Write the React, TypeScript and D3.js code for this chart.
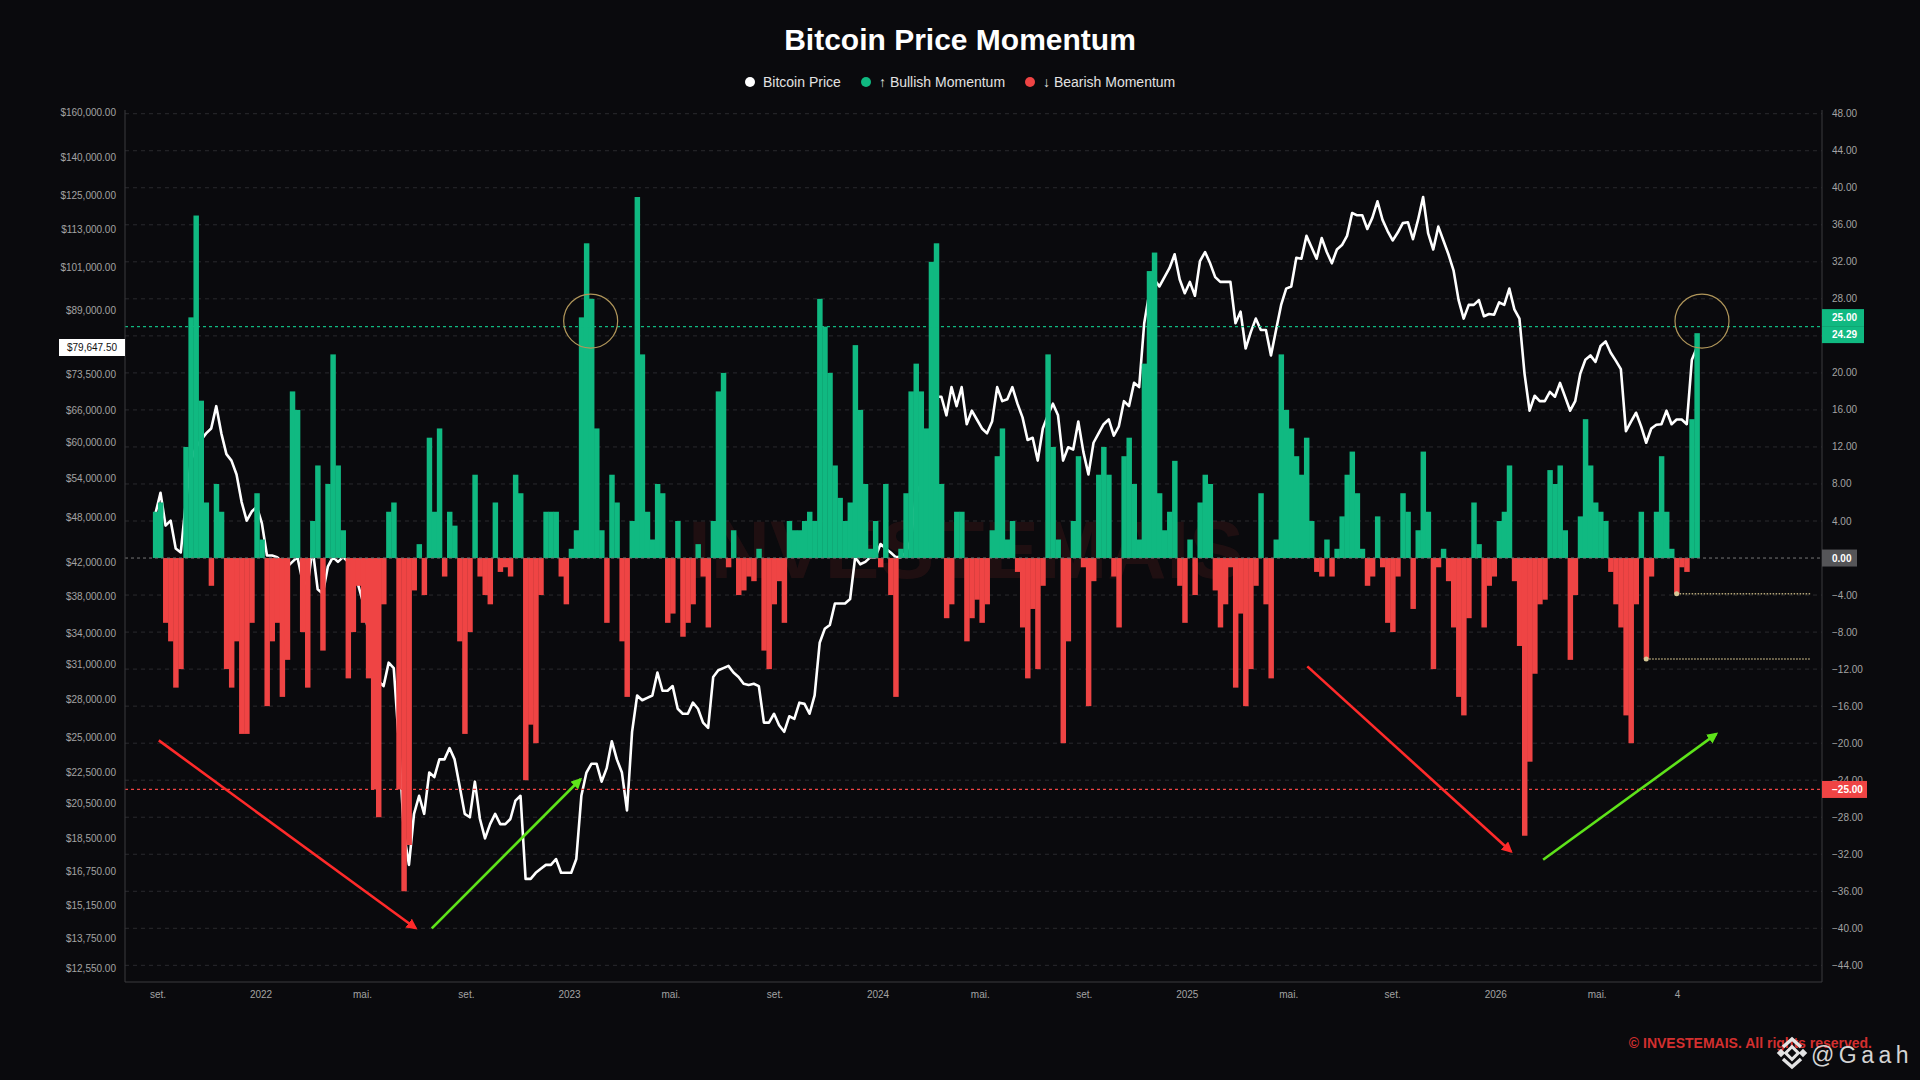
import { useEffect, useRef } from "react";
import * as d3 from "d3";

// one sample every 6 days starting 2021-08-29
const startDate = new Date(2021, 7, 29);
const stepDays = 6;

const momentum = [
  5, 6, -7, -9, -14, -12, 12, 26, 37, 17,
  6, -3, 8, 5, -12, -14, -9, -19, -19, -7,
  7, 2, -16, -9, -7, -15, -11, 18, 16, -8,
  -14, 4, 10, -10, 8, 22, 10, 3, -13, -8,
  -3, -7, -13, -25, -28, -5, 5, 6, -25, -36,
  -31, -3.5, 1.5, -4, 13, 5, 14, -2, 5, 3.5,
  -9, -19, -8, 9, -2, -4, -5, 6, -1.5, -1,
  -2, 9, 7, -24, -18, -20, -4, 5, 5, 5,
  -2, -5, 1, 3, 26, 34, 28, 14, 3, -7,
  9, 6, -9, -15, 4, 39, 22, 5, 2, 8,
  7, -7, -6, 4, -8.5, -7, -5, 1.5, -2, -7.5,
  4, 18, 20, -1, 3, -4, -3.5, -2, -2.5, 1,
  -10, -12, -5, -2.5, -7, 4, 3, 3, 4, 5,
  4, 28, 25, 20, 10, 6.5, 4, 6, 23, 16,
  8, 1, 4, -1, 8, -4, -15, 1, 7, 18,
  21, 18, 14, 32, 34, 8, -6.5, -5, 5, 5,
  -9, -6.5, -4.5, -7, -5, 3, 11, 14, 2, 4,
  -1.5, -7.5, -13, -5.5, -12, -3, 22, 12, 2, -20,
  -9, 4, 11, -1, -16, -2.5, 9, 12, 9, -2,
  -7.5, 11, 13, 8, 2, 21, 31, 33, 7, 3,
  5, 10.5, -3, -7, 2, -4, 6, 9, 8, -3.5,
  -7.5, -5, -1, -14, -6, -16, -12, -3, 7, -5,
  -13, 2, 22, 16, 14, 11, 9, 13, 4, -1.5,
  -2, 2, -2, 1, 4.5, 9, 11.5, 7, 1, -3,
  -2, 4.5, -1, -7, -8, -2, 7, 5, -5.5, 3,
  11.5, 5, -12, -1, 1, -2.5, -7.5, -15, -17, -6.5,
  6, 1.5, -7.5, -3, -2, 4, 5, 10, -2.5, -9.5,
  -30, -22, -12.5, -5, -4.5, 9.5, 8, 10, 3, -11,
  -4, 4.5, 15, 10, 6, 5, 4, -1.5, -5, -7.5,
  -17, -20, -5, 5, -10.9, -2, 5, 11, 5, 1,
  -3.85, -1, -1.5, 15, 24.29,
];

// Bitcoin price in thousands of USD
const priceK = [
  48.6, 51.7, 46.9, 47.6, 43.8, 43.3, 50.3, 56.9, 59.2, 60.5,
  61.7, 62.6, 66.9, 61.7, 58.0, 56.9, 54.6, 50.3, 47.6, 48.9,
  49.6, 47.2, 42.9, 42.9, 42.7, 42.1, 41.5, 42.1, 42.7, 39.8,
  39.3, 43.8, 38.8, 38.3, 41.5, 42.7, 42.1, 42.7, 42.1, 41.0,
  39.3, 37.2, 34.2, 31.2, 29.5, 29.1, 31.2, 30.7, 24.7, 18.8,
  17.1, 19.9, 21.0, 19.9, 22.5, 22.2, 23.4, 23.4, 24.2, 23.4,
  21.6, 19.9, 19.7, 21.9, 19.6, 18.5, 19.3, 19.9, 19.3, 19.3,
  19.6, 20.7, 21.0, 16.4, 16.4, 16.7, 16.9, 17.1, 17.1, 17.4,
  16.7, 16.7, 16.7, 17.4, 21.0, 22.5, 23.1, 23.1, 21.9, 22.8,
  24.7, 23.4, 22.5, 20.1, 25.4, 28.3, 27.9, 28.1, 28.3, 30.3,
  28.7, 28.7, 29.1, 27.2, 26.8, 26.8, 27.7, 27.2, 26.1, 25.7,
  29.9, 30.5, 30.7, 30.9, 30.3, 29.9, 29.3, 29.2, 29.3, 29.1,
  26.1, 26.1, 26.8, 25.9, 25.4, 26.6, 26.4, 27.7, 27.6, 26.8,
  28.3, 33.1, 34.5, 34.9, 37.2, 37.2, 37.2, 37.7, 42.7, 41.8,
  42.1, 42.7, 42.7, 44.4, 43.8, 43.3, 42.7, 42.7, 43.3, 45.0,
  51.5, 53.1, 56.9, 62.6, 68.8, 68.8, 65.1, 70.8, 66.9, 70.8,
  63.4, 66.0, 64.3, 62.6, 61.7, 63.9, 70.8, 67.9, 68.3, 70.8,
  67.4, 64.7, 60.5, 60.9, 56.9, 62.6, 65.1, 67.4, 65.1, 56.9,
  59.2, 58.8, 63.9, 58.4, 54.6, 60.0, 61.7, 63.4, 64.3, 61.3,
  63.0, 67.9, 66.9, 71.7, 70.8, 85.6, 93.6, 97.5, 95.5, 98.2,
  100.9, 105.1, 97.5, 93.6, 96.8, 92.9, 103.0, 105.8, 102.3, 98.2,
  96.8, 96.8, 96.8, 85.6, 88.6, 79.4, 83.3, 86.8, 83.9, 83.9,
  77.8, 83.9, 90.4, 94.9, 95.5, 104.0, 103.7, 111.0, 107.3, 103.7,
  110.3, 105.8, 102.3, 106.6, 108.0, 111.0, 118.8, 118.0, 118.0, 113.3,
  117.2, 123.0, 116.4, 112.6, 109.5, 112.1, 115.3, 115.6, 109.9, 116.4,
  124.6, 111.8, 106.6, 114.1, 109.5, 105.1, 100.2, 91.7, 86.8, 90.4,
  90.4, 91.7, 87.4, 88.0, 87.8, 91.1, 90.4, 94.9, 89.2, 86.8,
  73.7, 66.0, 69.0, 67.9, 67.9, 69.8, 68.8, 71.7, 68.8, 66.0,
  67.9, 73.7, 76.8, 77.8, 76.3, 80.0, 81.1, 78.4, 76.6, 74.7,
  62.1, 63.9, 65.6, 63.0, 60.0, 62.6, 63.3, 63.4, 66.0, 63.4,
  64.3, 64.3, 63.4, 76.8, 79.6475,
];

const priceTicks = [
  160000, 140000, 125000, 113000, 101000, 89000, 80000, 73500, 66000, 60000,
  54000, 48000, 42000, 38000, 34000, 31000, 28000, 25000, 22500, 20500,
  18500, 16750, 15150, 13750, 12550,
];

const momentumTicks = [
  48, 44, 40, 36, 32, 28, 24, 20, 16, 12, 8, 4, 0,
  -4, -8, -12, -16, -20, -24, -28, -32, -36, -40, -44,
];
// labels fully covered by value tags in the chart
const hiddenMomentumLabels = [24];

const timeTicks: [string, string][] = [
  ["2021-09-01", "set."], ["2022-01-01", "2022"], ["2022-05-01", "mai."],
  ["2022-09-01", "set."], ["2023-01-01", "2023"], ["2023-05-01", "mai."],
  ["2023-09-01", "set."], ["2024-01-01", "2024"], ["2024-05-01", "mai."],
  ["2024-09-01", "set."], ["2025-01-01", "2025"], ["2025-05-01", "mai."],
  ["2025-09-01", "set."], ["2026-01-01", "2026"], ["2026-05-01", "mai."],
  ["2026-08-04", "4"],
];

const upperLevel = 25;
const lowerLevel = -25;

// drawings on the chart
const trendArrows = [
  { from: ["2021-09-02", -19.7], to: ["2022-07-03", -40.0], color: "#ff2a2a" },
  { from: ["2022-07-22", -40.0], to: ["2023-01-14", -23.9], color: "#5ee31a" },
  { from: ["2025-05-23", -11.7], to: ["2026-01-19", -31.7], color: "#ff2a2a" },
  { from: ["2026-02-26", -32.6], to: ["2026-09-19", -19.0], color: "#5ee31a" },
];
const highlightCircles = [
  { date: "2023-01-26", value: 25.6 },
  { date: "2026-09-02", value: 25.6 },
];
const rays = [
  { index: 294, end: "2027-01-09" },
  { index: 300, end: "2027-01-09" },
];

const BG = "#0a0a0d";
const GREEN = "#10b981";
const RED = "#ef4444";
const FONT = "'Liberation Sans', Arial, sans-serif";

export default function App() {
  const svgRef = useRef<SVGSVGElement>(null);

  useEffect(() => {
    const svg = d3.select(svgRef.current);
    svg.selectAll("*").remove();

    const left = 125;
    const right = 1822;
    const top = 110;
    const bottom = 982;

    const parse = d3.timeParse("%Y-%m-%d");
    const dates = momentum.map((_, i) => d3.timeDay.offset(startDate, i * stepDays));

    const x = d3
      .scaleTime()
      .domain([parse("2021-07-24")!, parse("2027-01-22")!])
      .range([left, right]);
    const yM = d3.scaleLinear().domain([-45.8, 48.4]).range([bottom, top]);
    const yP = d3.scaleLog().domain([12070, 161400]).range([bottom, top]);

    const barW = x(dates[1]) - x(dates[0]);

    svg.append("rect").attr("width", 1920).attr("height", 1080).attr("fill", BG);

    // grid
    svg
      .append("g")
      .selectAll("line")
      .data(momentumTicks.filter((t) => t !== 0))
      .join("line")
      .attr("x1", left)
      .attr("x2", right)
      .attr("y1", (d) => yM(d))
      .attr("y2", (d) => yM(d))
      .attr("stroke", "#2a2a2e")
      .attr("stroke-dasharray", "4,4");

    // watermark
    svg
      .append("text")
      .attr("x", 966)
      .attr("y", 578)
      .attr("text-anchor", "middle")
      .style("font-family", FONT)
      .style("font-size", "82px")
      .style("font-weight", "bold")
      .attr("fill", "rgba(239,68,68,0.09)")
      .text("INVESTEMAIS");

    // price line (under the histogram)
    const priceLine = d3
      .line<number>()
      .x((_, i) => x(dates[i]))
      .y((d) => yP(d * 1000));
    svg
      .append("path")
      .datum(priceK)
      .attr("fill", "none")
      .attr("stroke", "#ffffff")
      .attr("stroke-width", 2.6)
      .attr("stroke-linejoin", "round")
      .attr("d", priceLine);

    // momentum histogram
    svg
      .append("g")
      .selectAll("rect")
      .data(momentum)
      .join("rect")
      .attr("x", (_, i) => x(dates[i]) - barW / 2)
      .attr("width", barW + 0.4)
      .attr("y", (d) => (d >= 0 ? yM(d) : yM(0)))
      .attr("height", (d) => Math.abs(yM(d) - yM(0)))
      .attr("fill", (d) => (d >= 0 ? GREEN : RED));

    // zero and threshold lines
    svg
      .append("line")
      .attr("x1", left)
      .attr("x2", right)
      .attr("y1", yM(0))
      .attr("y2", yM(0))
      .attr("stroke", "#777")
      .attr("stroke-dasharray", "3,3");
    [
      { v: upperLevel, c: GREEN },
      { v: lowerLevel, c: RED },
    ].forEach((l) => {
      svg
        .append("line")
        .attr("x1", left)
        .attr("x2", right)
        .attr("y1", yM(l.v))
        .attr("y2", yM(l.v))
        .attr("stroke", l.c)
        .attr("stroke-width", 1.2)
        .attr("stroke-dasharray", "3,3");
    });

    // rays from recent lows
    rays.forEach((r) => {
      const x0 = x(dates[r.index]);
      const y0 = yM(momentum[r.index]);
      svg
        .append("line")
        .attr("x1", x0)
        .attr("x2", x(parse(r.end)!))
        .attr("y1", y0)
        .attr("y2", y0)
        .attr("stroke", "#b3a477")
        .attr("stroke-width", 1.5)
        .attr("stroke-dasharray", "1.5,1.5");
      svg
        .append("circle")
        .attr("cx", x0)
        .attr("cy", y0)
        .attr("r", 2.5)
        .attr("fill", "#d6c796");
    });

    // circles
    highlightCircles.forEach((c) => {
      svg
        .append("circle")
        .attr("cx", x(parse(c.date)!))
        .attr("cy", yM(c.value))
        .attr("r", 27)
        .attr("fill", "none")
        .attr("stroke", "#b0965a")
        .attr("stroke-width", 1.2);
    });

    // arrows
    const defs = svg.append("defs");
    trendArrows.forEach((a, i) => {
      defs
        .append("marker")
        .attr("id", `arrow${i}`)
        .attr("viewBox", "0 0 10 10")
        .attr("refX", 8)
        .attr("refY", 5)
        .attr("markerWidth", 11)
        .attr("markerHeight", 11)
        .attr("markerUnits", "userSpaceOnUse")
        .attr("orient", "auto")
        .append("path")
        .attr("d", "M0,0L10,5L0,10z")
        .attr("fill", a.color);
      svg
        .append("line")
        .attr("x1", x(parse(a.from[0] as string)!))
        .attr("y1", yM(a.from[1] as number))
        .attr("x2", x(parse(a.to[0] as string)!))
        .attr("y2", yM(a.to[1] as number))
        .attr("stroke", a.color)
        .attr("stroke-width", 2.6)
        .attr("marker-end", `url(#arrow${i})`);
    });

    // axis lines
    const axisColor = "#3a3a3e";
    svg.append("line").attr("x1", left).attr("x2", left).attr("y1", top).attr("y2", bottom).attr("stroke", axisColor);
    svg.append("line").attr("x1", right).attr("x2", right).attr("y1", top).attr("y2", bottom).attr("stroke", axisColor);
    svg.append("line").attr("x1", left).attr("x2", right).attr("y1", bottom).attr("y2", bottom).attr("stroke", axisColor);

    const labelStyle = (sel: any) =>
      sel.style("font-family", FONT).style("font-size", "10px").attr("fill", "#a3a3a3");

    // left price labels
    const fmtPrice = d3.format("$,.2f");
    svg
      .append("g")
      .selectAll("text")
      .data(priceTicks)
      .join("text")
      .attr("x", left - 9)
      .attr("y", (d) => yP(d))
      .attr("dy", "0.35em")
      .attr("text-anchor", "end")
      .text((d) => fmtPrice(d))
      .call(labelStyle);

    // right momentum labels
    svg
      .append("g")
      .selectAll("text")
      .data(momentumTicks.filter((t) => !hiddenMomentumLabels.includes(t)))
      .join("text")
      .attr("x", right + 10)
      .attr("y", (d) => yM(d))
      .attr("dy", "0.35em")
      .text((d) => d3.format(".2f")(d))
      .call(labelStyle);

    // time labels
    svg
      .append("g")
      .selectAll("text")
      .data(timeTicks)
      .join("text")
      .attr("x", (d) => x(parse(d[0])!))
      .attr("y", bottom + 16)
      .attr("text-anchor", "middle")
      .text((d) => d[1])
      .call(labelStyle);

    // last price tag
    const lastPrice = priceK[priceK.length - 1] * 1000;
    svg
      .append("rect")
      .attr("x", 59)
      .attr("y", yP(lastPrice) - 8.5)
      .attr("width", left - 59)
      .attr("height", 17)
      .attr("fill", "#ffffff");
    svg
      .append("text")
      .attr("x", (59 + left) / 2)
      .attr("y", yP(lastPrice))
      .attr("dy", "0.35em")
      .attr("text-anchor", "middle")
      .style("font-family", FONT)
      .style("font-size", "10px")
      .attr("fill", "#111")
      .text(fmtPrice(lastPrice));

    // right side value tags (the two green ones are stacked)
    const lastMomentum = momentum[momentum.length - 1];
    const upperTagY = yM(upperLevel) - 9;
    const tags = [
      { y: upperTagY, text: d3.format(".2f")(upperLevel), fill: GREEN, w: 42 },
      { y: upperTagY + 17, text: d3.format(".2f")(lastMomentum), fill: GREEN, w: 42 },
      { y: yM(0), text: "0.00", fill: "#555558", w: 35 },
      { y: yM(lowerLevel), text: d3.format(".2f")(lowerLevel), fill: RED, w: 45 },
    ];
    tags.forEach((t) => {
      svg
        .append("rect")
        .attr("x", right)
        .attr("y", t.y - 8.5)
        .attr("width", t.w)
        .attr("height", 17)
        .attr("fill", t.fill);
      svg
        .append("text")
        .attr("x", right + 10)
        .attr("y", t.y)
        .attr("dy", "0.35em")
        .style("font-family", FONT)
        .style("font-size", "10px")
        .style("font-weight", "bold")
        .attr("fill", "#ffffff")
        .text(t.text);
    });

    // title
    svg
      .append("text")
      .attr("x", 960)
      .attr("y", 50)
      .attr("text-anchor", "middle")
      .style("font-family", FONT)
      .style("font-size", "30px")
      .style("font-weight", "bold")
      .attr("fill", "#ffffff")
      .text("Bitcoin Price Momentum");

    // legend
    const legendItems = [
      { cx: 750, tx: 763, color: "#ffffff", label: "Bitcoin Price" },
      { cx: 866, tx: 879, color: GREEN, label: "↑ Bullish Momentum" },
      { cx: 1030, tx: 1043, color: RED, label: "↓ Bearish Momentum" },
    ];
    legendItems.forEach((l) => {
      svg.append("circle").attr("cx", l.cx).attr("cy", 82).attr("r", 5).attr("fill", l.color);
      svg
        .append("text")
        .attr("x", l.tx)
        .attr("y", 82)
        .attr("dy", "0.35em")
        .style("font-family", FONT)
        .style("font-size", "14px")
        .attr("fill", "#e2e2e2")
        .text(l.label);
    });

    // footer
    svg
      .append("text")
      .attr("x", 1872)
      .attr("y", 1048)
      .attr("text-anchor", "end")
      .style("font-family", FONT)
      .style("font-size", "14px")
      .style("font-weight", "bold")
      .attr("fill", "#d32f2f")
      .text("© INVESTEMAIS. All rights reserved.");

    const logo = svg.append("g").attr("transform", "translate(1792,1053)").attr("fill", "#e4e4e4");
    logo
      .append("rect")
      .attr("x", -4.5)
      .attr("y", -4.5)
      .attr("width", 9)
      .attr("height", 9)
      .attr("fill", "none")
      .attr("stroke", "#e4e4e4")
      .attr("stroke-width", 3)
      .attr("transform", "rotate(45)");
    [-11, 11].forEach((dx) => {
      logo
        .append("rect")
        .attr("x", -3)
        .attr("y", -3)
        .attr("width", 6)
        .attr("height", 6)
        .attr("transform", `translate(${dx},0) rotate(45)`);
    });
    [-1, 1].forEach((s) => {
      logo
        .append("path")
        .attr("d", `M-9,${s * 6}L0,${s * 14}L9,${s * 6}`)
        .attr("fill", "none")
        .attr("stroke", "#e4e4e4")
        .attr("stroke-width", 3.5);
    });
    svg
      .append("text")
      .attr("x", 1811)
      .attr("y", 1063)
      .style("font-family", FONT)
      .style("font-size", "23px")
      .style("letter-spacing", "4.5px")
      .attr("fill", "#d4d4d4")
      .text("@Gaah");
  }, []);

  return (
    <div style={{ position: "fixed", inset: 0, background: BG }}>
      <svg ref={svgRef} width={1920} height={1080} style={{ display: "block" }} />
    </div>
  );
}
